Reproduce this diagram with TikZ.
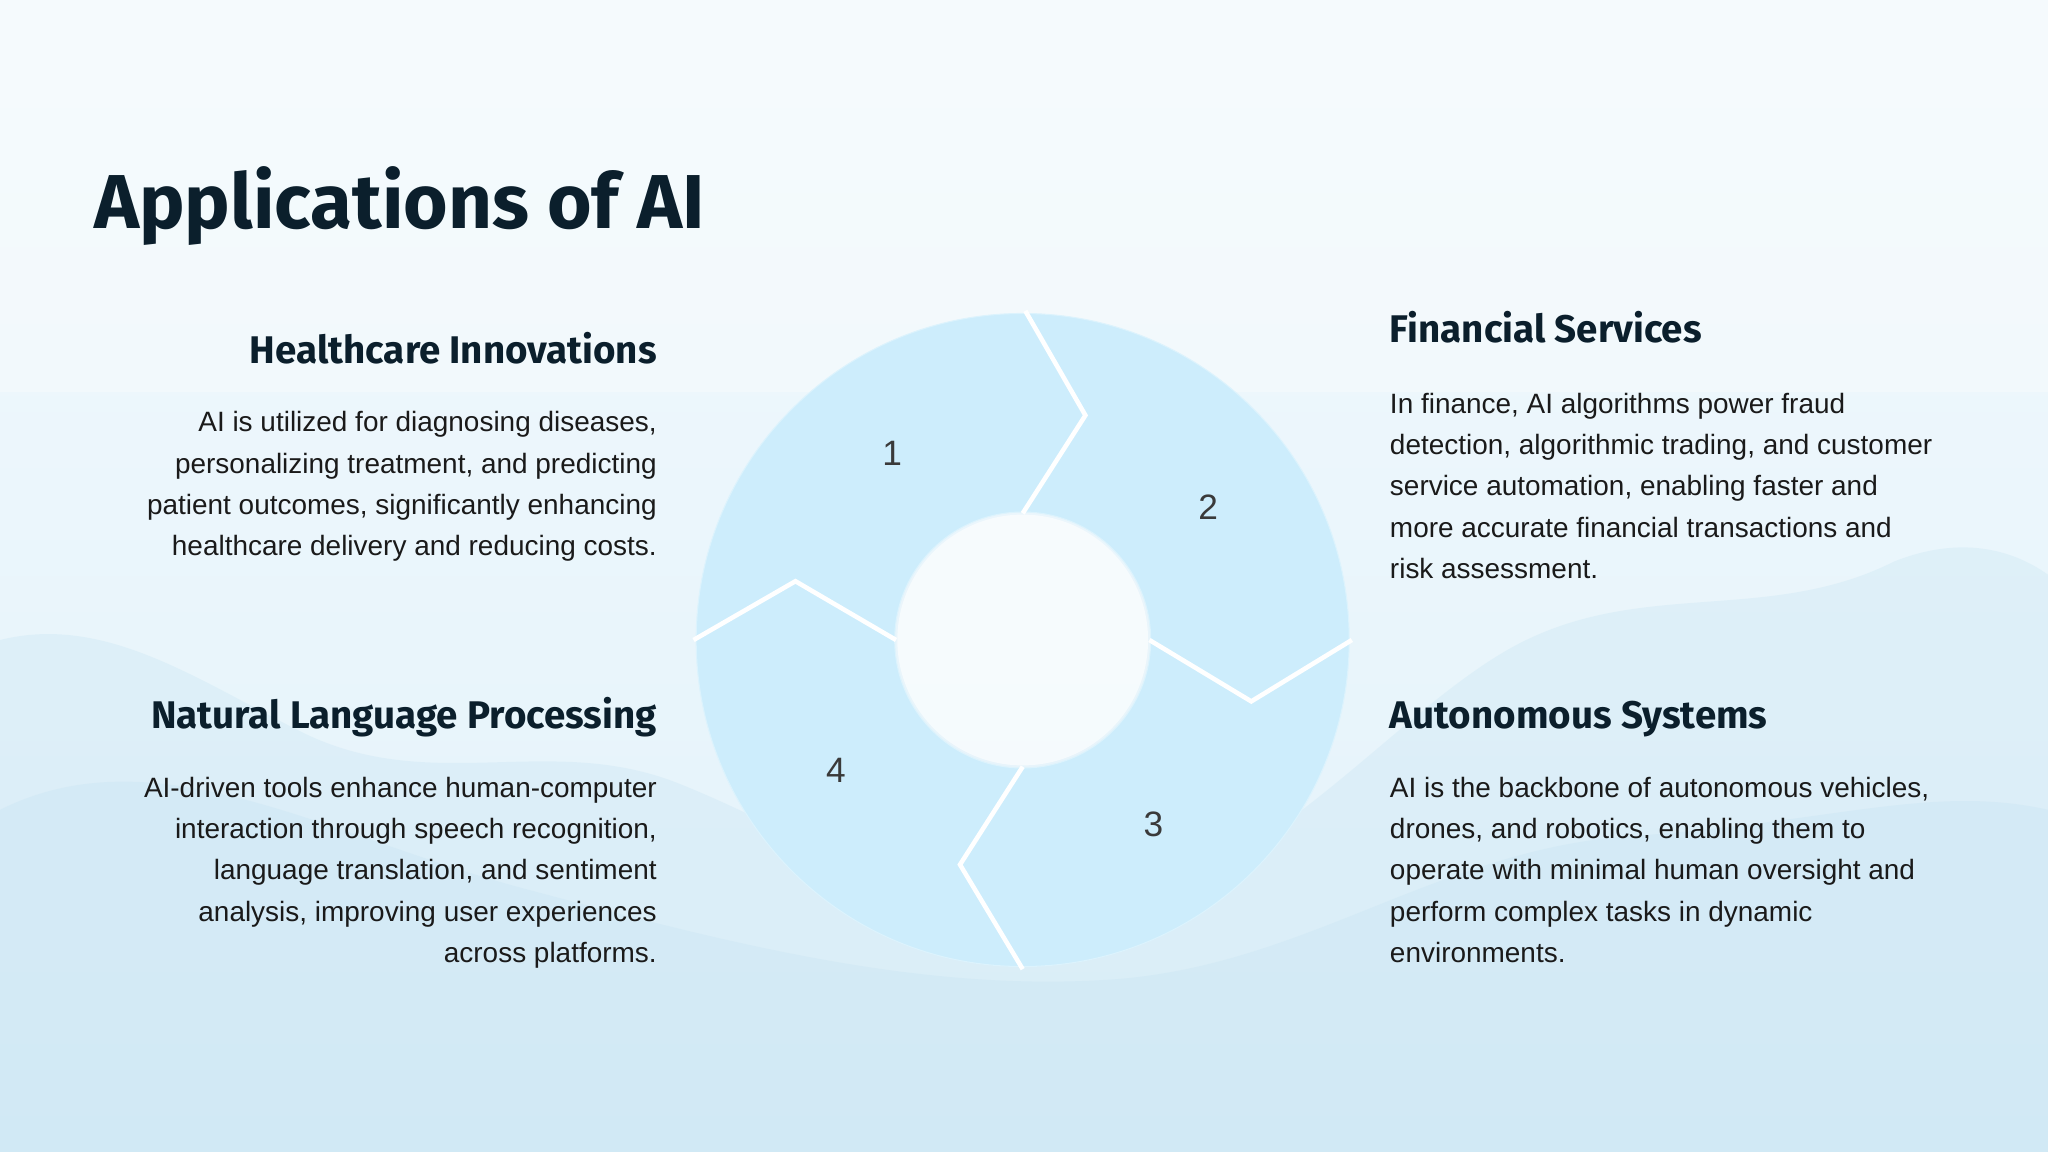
\documentclass[tikz,border=0pt]{standalone}
\usepackage{fontspec}
\setmainfont{Liberation Sans}
\newfontfamily\headfont{Fira Sans}
\usetikzlibrary{calc}
\definecolor{ringblue}{HTML}{CDEDFC}
\definecolor{titlecol}{HTML}{0B1F2C}
\definecolor{bodycol}{HTML}{1A1A1A}
\definecolor{numcol}{HTML}{3A3A3A}
\definecolor{bgtop}{HTML}{F2F9FD}
\definecolor{bgbot}{HTML}{E2F2FA}
\definecolor{hill}{HTML}{C4E3F2}
\tikzset{
  heading/.style={font=\headfont\bfseries\fontsize{29.5}{32}\selectfont, text=titlecol, inner sep=0pt},
  bodytxt/.style={font=\fontsize{21.4}{31.5}\selectfont, text=bodycol, inner sep=0pt},
  numtxt/.style={font=\fontsize{27}{30}\selectfont, text=numcol},
  gapline/.style={white, line width=3.5pt, line join=miter}
}
\begin{document}
\begin{tikzpicture}[x=1pt,y=-1pt]
\useasboundingbox (0,0) rectangle (1568,882);
\shade[top color=bgtop, bottom color=bgbot] (0,0) rectangle (1568,882);
% soft hills
\fill[hill, opacity=0.3] (0,490) .. controls (80,470) and (150,520) .. (230,560) .. controls (330,610) and (420,560) .. (520,600) .. controls (620,640) and (700,700) .. (800,700) .. controls (950,700) and (1050,560) .. (1150,500) .. controls (1250,440) and (1350,480) .. (1450,430) .. controls (1500,410) and (1540,420) .. (1568,440) -- (1568,882) -- (0,882) -- cycle;
\fill[hill, opacity=0.3] (0,620) .. controls (120,560) and (250,640) .. (400,680) .. controls (550,720) and (700,760) .. (850,750) .. controls (1000,740) and (1100,650) .. (1250,640) .. controls (1400,630) and (1480,600) .. (1568,620) -- (1568,882) -- (0,882) -- cycle;
\fill[white, opacity=0.3] (0,0) rectangle (1568,300);

\node[font=\headfont\bfseries\fontsize{58.5}{62}\selectfont, text=titlecol, anchor=base west, inner sep=0pt] (title) at (72,175) {Applications of AI};

% ring
\coordinate (c) at (783,490);
\fill[ringblue, even odd rule] (c) circle[radius=250] (c) circle[radius=98];
\draw[ringblue!70!white, line width=0.8pt] (c) circle[radius=250] (c) circle[radius=98];
\coordinate (t1) at (785,238); \coordinate (t2) at (831,318); \coordinate (t3) at (783,393);
\coordinate (r1) at (1035,490); \coordinate (r2) at (958,537); \coordinate (r3) at (880,490);
\coordinate (b1) at (783,742); \coordinate (b2) at (735,662); \coordinate (b3) at (783,587);
\coordinate (l1) at (531,490); \coordinate (l2) at (609,445); \coordinate (l3) at (686,490);
\draw[gapline] (t1) -- (t2) -- (t3);
\draw[gapline] (r1) -- (r2) -- (r3);
\draw[gapline] (b1) -- (b2) -- (b3);
\draw[gapline] (l1) -- (l2) -- (l3);
\fill[white, opacity=0.6] (c) circle[radius=96];
\node[numtxt] (n1) at (683,347) {1};
\node[numtxt] (n2) at (925,388) {2};
\node[numtxt] (n3) at (883,631) {3};
\node[numtxt] (n4) at (640,590) {4};

% left column
\node[heading, anchor=base east] (h1) at (503,278) {Healthcare Innovations};
\node[bodytxt, anchor=north east, align=right] (p1) at (503,315) {AI is utilized for diagnosing diseases,\\personalizing treatment, and predicting\\patient outcomes, significantly enhancing\\healthcare delivery and reducing costs.};
\node[heading, anchor=base east] (h4) at (503,558) {Natural Language Processing};
\node[bodytxt, anchor=north east, align=right] (p4) at (503,595) {AI-driven tools enhance human-computer\\interaction through speech recognition,\\language translation, and sentiment\\analysis, improving user experiences\\across platforms.};
% right column
\node[heading, anchor=base west] (h2) at (1064,262) {Financial Services};
\node[bodytxt, anchor=north west, align=left] (p2) at (1064,301) {In finance, AI algorithms power fraud\\detection, algorithmic trading, and customer\\service automation, enabling faster and\\more accurate financial transactions and\\risk assessment.};
\node[heading, anchor=base west] (h3) at (1064,558) {Autonomous Systems};
\node[bodytxt, anchor=north west, align=left] (p3) at (1064,595) {AI is the backbone of autonomous vehicles,\\drones, and robotics, enabling them to\\operate with minimal human oversight and\\perform complex tasks in dynamic\\environments.};
\end{tikzpicture}
\end{document}
